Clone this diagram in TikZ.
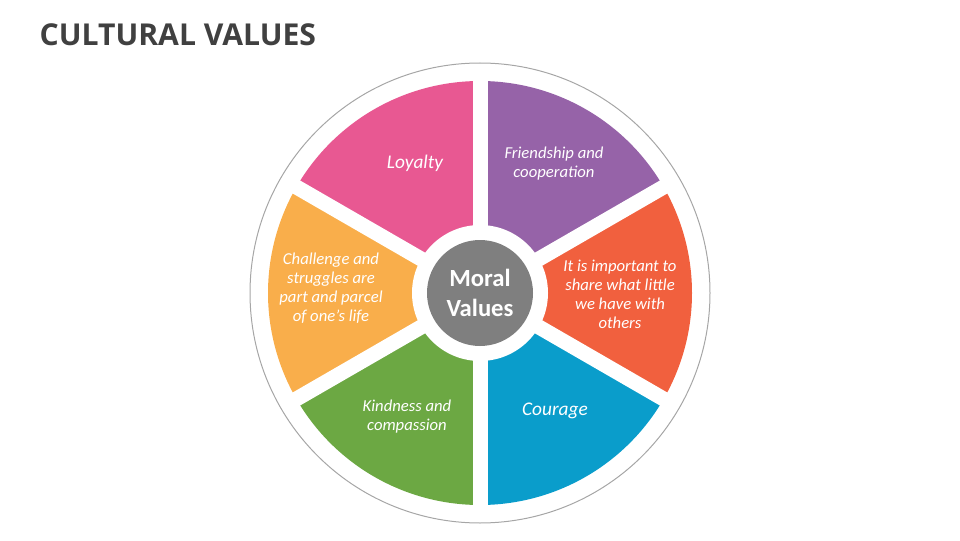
\documentclass[tikz,border=0pt]{standalone}
\usepackage{fontspec}
\setmainfont{Carlito}
\newfontfamily\titlefont{Open Sans}
\usetikzlibrary{positioning}

\definecolor{loyaltypink}{HTML}{E85892}
\definecolor{friendpurple}{HTML}{9663A8}
\definecolor{sharered}{HTML}{F1603E}
\definecolor{courageblue}{HTML}{0A9DCB}
\definecolor{kindgreen}{HTML}{6CA843}
\definecolor{challengeorange}{HTML}{F9AE4B}
\definecolor{hubgray}{HTML}{7F7F7F}
\definecolor{titlegray}{HTML}{404040}

\begin{document}
\begin{tikzpicture}[
  x=0.75pt, y=0.75pt,
  gap/.style={draw=white, line width=11.25pt},
  hub/.style={circle, fill=hubgray, text=white, minimum size=79.5pt, inner sep=0pt, align=center, font=\bfseries\fontsize{18.5}{22}\selectfont},
  label/.style={text=white, align=center, font=\itshape\fontsize{12.5}{14.25}\selectfont},
  biglabel/.style={text=white, align=center, font=\itshape\fontsize{14.5}{16}\selectfont},
]
  \useasboundingbox (0,0) rectangle (960,540);
  \node[anchor=west, text=titlegray, font=\titlefont\bfseries\fontsize{22.6}{26}\selectfont] (title) at (35,505) {CULTURAL VALUES};

  \begin{scope}[shift={(480,247)}]
    \draw[black!35, line width=0.75pt] (0,0) circle (230);
    % six coloured sectors
    \foreach \a/\c in {90/loyaltypink, 30/friendpurple, -30/sharered, -90/courageblue, 210/kindgreen, 150/challengeorange}
      \fill[\c] (0,0) -- (\a:212) arc (\a:\a+60:212) -- cycle;
    % white gaps between sectors
    \foreach \a in {30,90,...,330}
      \draw[gap] (0,0) -- (\a:222);
    \fill[white] (0,0) circle (68);
    \node[hub] (hub) at (0,0) {Moral\\Values};

    \node[biglabel] (loyalty) at (-65,130) {Loyalty};
    \node[label] (friendship) at (74,129) {Friendship and\\cooperation};
    \node[label] (share) at (140,-1) {It is important to\\share what little\\we have with\\others};
    \node[biglabel] (courage) at (75,-118) {Courage};
    \node[label] (kindness) at (-73,-124) {Kindness and\\compassion};
    \node[label] (challenge) at (-149,5) {Challenge and\\struggles are\\part and parcel\\of one’s life};
  \end{scope}
\end{tikzpicture}
\end{document}
